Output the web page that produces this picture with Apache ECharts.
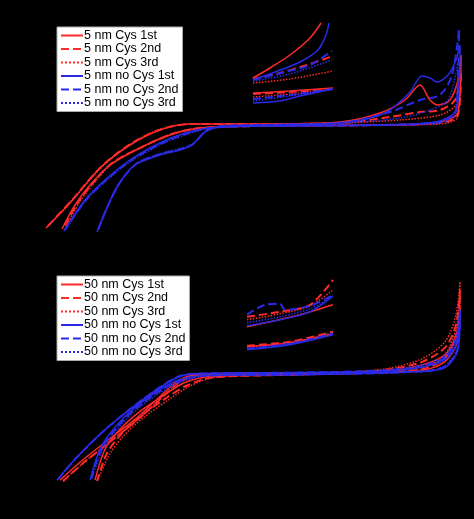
<!DOCTYPE html>
<html><head><meta charset="utf-8">
<script src="https://cdn.jsdelivr.net/npm/echarts@6/dist/echarts.min.js"></script>
<style>html,body{margin:0;background:#000}#c{width:474px;height:519px}</style>
</head><body><div id="c"></div>
<script>
const namesTop=['5 nm Cys 1st','5 nm Cys 2nd','5 nm Cys 3rd','5 nm no Cys 1st','5 nm no Cys 2nd','5 nm no Cys 3rd'];
const namesBot=['50 nm Cys 1st','50 nm Cys 2nd','50 nm Cys 3rd','50 nm no Cys 1st','50 nm no Cys 2nd','50 nm no Cys 3rd'];
// top panel main curves
const t_r1=[[46,228],[70,203],[100,168],[130,145],[160,130],[190,124],[260,124],[340,122],[380,113],[405,100],[420,85],[430,100],[438,105],[450,100],[458,80],[461,55],[458,112],[440,122],[380,125],[260,126],[200,128],[170,135],[140,148],[110,165],[90,185],[75,205],[62,229]];
const t_r2=[[48,226],[72,200],[102,166],[132,143],[162,129],[192,124],[260,124],[340,123],[390,117],[420,112],[440,110],[455,100],[461,72],[458,115],[440,123],[380,125],[260,126],[200,128],[172,134],[142,147],[112,163],[92,184],[77,204],[64,228]];
const t_r3=[[50,224],[74,198],[104,165],[134,142],[164,128],[194,124],[260,124],[340,123],[400,120],[440,115],[456,105],[460,88],[457,118],[440,124],[380,125],[260,126],[200,128],[174,133],[144,146],[114,162],[94,183],[79,203],[66,227]];
const t_b1=[[97,232],[105,212],[118,185],[135,165],[160,155],[180,150],[192,145],[205,132],[220,127],[260,125],[340,123],[385,113],[410,92],[422,76],[430,78],[437,82],[448,75],[456,60],[460,45],[457,108],[440,121],[380,125],[260,126],[210,128],[185,133],[160,143],[130,160],[105,180],[85,200],[64,231]];
const t_b2=[[98,230],[106,210],[119,184],[136,164],[161,154],[181,149],[193,144],[206,131],[222,126],[260,125],[340,123],[390,112],[420,100],[440,95],[452,75],[459,30],[456,110],[440,122],[380,125],[260,126],[210,128],[185,134],[160,144],[130,161],[105,181],[85,201],[65,230]];
const t_b3=[[99,229],[107,209],[120,183],[137,163],[162,153],[182,148],[194,143],[207,130],[224,126],[260,125],[340,123],[400,118],[430,110],[448,100],[458,62],[456,112],[440,123],[380,125],[260,126],[210,128],[185,135],[160,145],[130,162],[105,182],[85,202],[66,229]];
// top insets
const ti_up=[[[253,78],[270,68],[290,55],[310,38],[321,23]],[[253,79],[280,73],[310,64],[333,56]],[[253,83],[290,79],[333,71]],[[253,80],[275,72],[300,62],[318,50],[326,35],[329,23]],[[253,80],[285,72],[310,65],[332,51]],[[253,81],[290,74],[332,60]]];
const ti_lo=[[[253,93],[290,91],[333,88]],[[253,94],[290,92],[333,89]],[[253,97],[290,94],[333,89]],[[253,103],[280,101],[300,96],[333,89]],[[253,99],[290,95],[333,89]],[[253,101],[290,96],[333,89]]];
// bottom panel main curves
const b_r1=[[60,221],[80,203],[105,183],[135,160],[160,137],[180,120],[200,115],[300,114],[380,112],[420,106],[445,95],[456,75],[460,45],[458,80],[445,102],[420,111],[300,115],[210,117],[185,123],[165,135],[140,152],[120,170],[105,190],[95,221]];
const b_r2=[[63,222],[83,204],[108,184],[138,160],[162,138],[182,121],[202,115],[300,114],[380,111],[420,103],[445,88],[456,65],[460,30],[458,70],[445,98],[420,110],[300,115],[212,118],[187,126],[167,138],[142,156],[122,174],[107,194],[97,222]];
const b_r3=[[64,221],[84,203],[109,183],[139,159],[163,137],[183,120],[203,115],[300,114],[380,110],[420,100],[445,82],[456,55],[460,22],[458,60],[445,95],[420,108],[300,115],[214,118],[189,127],[169,140],[144,158],[124,176],[109,196],[98,221]];
const b_b1=[[57,221],[75,200],[100,175],[130,150],[160,128],[180,117],[200,114],[300,113],[380,112],[420,108],[445,100],[456,85],[460,55],[458,90],[445,108],[420,112],[300,115],[205,116],[180,120],[160,130],[135,148],[115,168],[100,190],[90,221]];
const b_b2=[[58,220],[76,199],[101,174],[131,149],[161,127],[181,116],[201,114],[300,113],[380,111],[420,107],[445,98],[456,80],[460,50],[458,88],[445,107],[420,112],[300,115],[206,116],[181,121],[161,131],[136,149],[116,169],[101,191],[91,220]];
const b_b3=[[59,219],[77,198],[102,173],[132,148],[162,126],[182,116],[202,114],[300,113],[380,111],[420,106],[445,96],[456,78],[460,52],[458,86],[445,106],[420,112],[300,115],[207,116],[182,122],[162,132],[137,150],[117,170],[102,192],[92,219]];
// bottom insets
const bi_up=[[[247,67],[270,62],[300,55],[333,45]],[[247,57],[280,52],[310,45],[333,20]],[[247,60],[280,54],[310,46],[333,30]],[[247,66],[280,60],[310,52],[333,36]],[[247,55],[265,45],[280,44],[285,50],[310,46],[333,35]],[[247,63],[280,57],[310,49],[333,37]]];
const bi_lo=[[[247,87],[290,83],[333,74]],[[247,86],[290,82],[333,72]],[[247,87],[290,83],[333,73]],[[247,90],[290,85],[333,75]],[[247,89],[290,84],[333,74]],[[247,89],[290,84],[333,75]]];

const colors=['#ff2a2a','#ff2a2a','#ff2a2a','#2a2ae6','#2a2ae6','#2a2ae6'];
const types=['solid','dashed','dotted','solid','dashed','dotted'];
const series=[];
function add(name,i,data,g){
  series.push({type:'line',name:name,data:data,xAxisIndex:g,yAxisIndex:g,smooth:0.3,showSymbol:false,symbol:'none',
    lineStyle:{color:colors[i],width:i%3===1?2:1.5,type:types[i]},itemStyle:{color:colors[i]}});
}
[t_r1,t_r2,t_r3,t_b1,t_b2,t_b3].forEach((d,i)=>{add(namesTop[i],i,d,0);add(namesTop[i],i,ti_up[i],0);add(namesTop[i],i,ti_lo[i],0);});
[b_r1,b_r2,b_r3,b_b1,b_b2,b_b3].forEach((d,i)=>{add(namesBot[i],i,d,1);add(namesBot[i],i,bi_up[i],1);add(namesBot[i],i,bi_lo[i],1);});
const axX=g=>({type:'value',gridIndex:g,min:0,max:474,show:false});
const axY=g=>({type:'value',gridIndex:g,min:0,max:260,inverse:true,show:false});
const lg=(names,top)=>({data:names,orient:'vertical',left:57,top:top,backgroundColor:'#fff',borderColor:'#aaa',borderWidth:1,padding:[2,4,2,3],
  itemGap:0.5,itemWidth:22,itemHeight:12,itemStyle:{opacity:0},textStyle:{fontFamily:'Liberation Sans, Arial',fontSize:12.5,color:'#000',padding:[0,0,0,-4]},selectedMode:false});
echarts.init(document.getElementById('c')).setOption({
  backgroundColor:'#000',animation:false,
  grid:[{left:0,right:0,top:0,height:260},{left:0,right:0,top:260,height:260}],
  xAxis:[axX(0),axX(1)],yAxis:[axY(0),axY(1)],
  legend:[lg(namesTop,27),lg(namesBot,276)],
  series:series
});
</script></body></html>
